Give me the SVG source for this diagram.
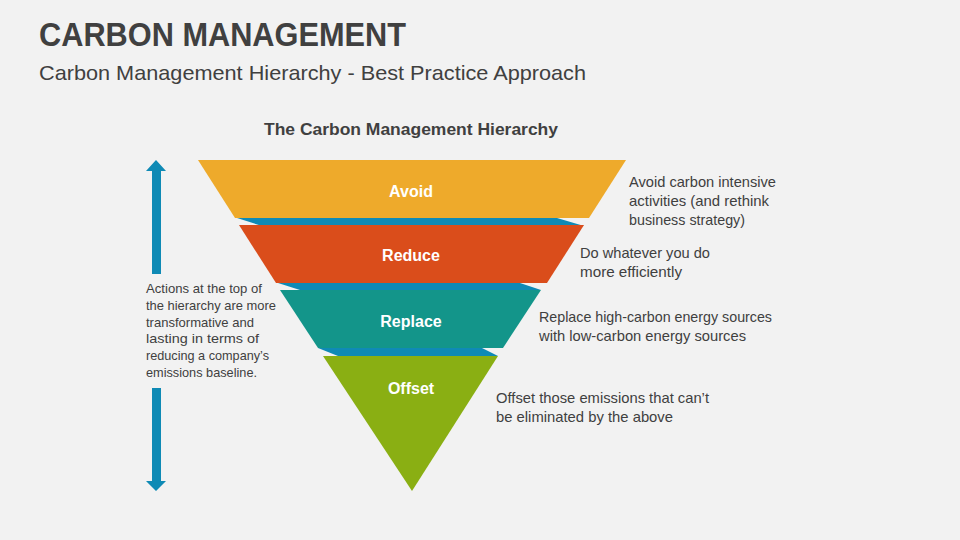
<svg xmlns="http://www.w3.org/2000/svg" width="960" height="540" viewBox="0 0 960 540">
<style>
.t{font-family:"Liberation Sans",Arial,sans-serif;fill:#404040}
.b{font-weight:bold}
.lbl{font-family:"Liberation Sans",Arial,sans-serif;font-weight:bold;font-size:16px;fill:#ffffff;text-anchor:middle}
.d{font-size:14.5px}
.s{font-size:13.5px}
.band{fill:#0F8AB5}
.arr{fill:#0F8AB5}
</style>
<rect width="960" height="540" fill="#F2F2F2"/>
<text class="t b" x="39" y="46" font-size="33" textLength="367" lengthAdjust="spacingAndGlyphs">CARBON MANAGEMENT</text>
<text class="t" x="39" y="80" font-size="21" textLength="547" lengthAdjust="spacingAndGlyphs">Carbon Management Hierarchy - Best Practice Approach</text>
<text class="t b" x="264" y="135" font-size="17" textLength="294" lengthAdjust="spacingAndGlyphs">The Carbon Management Hierarchy</text>

<g id="connectors">
<polygon class="band" points="237,218 557,218 584,226 262,226"/>
<polygon class="band" points="278,283 520,283 541,290 300,290"/>
<polygon class="band" points="318,348 482,348 498,356 338,356"/>
</g>

<g id="avoid">
<polygon points="198,160 626,160 589,218 235,218" fill="#EEAA2B"/>
<text class="lbl" x="411" y="197">Avoid</text>
</g>
<g id="reduce">
<polygon points="239,225 584,225 547,283 276,283" fill="#DA4D1B"/>
<text class="lbl" x="411" y="261">Reduce</text>
</g>
<g id="replace">
<polygon points="280,290 541,290 503,348 318,348" fill="#13958A"/>
<text class="lbl" x="411" y="327">Replace</text>
</g>
<g id="offset">
<polygon points="323,356 498,356 412,491" fill="#8AAF13"/>
<text class="lbl" x="411" y="394">Offset</text>
</g>

<g id="avoid-desc">
<text class="t d" x="629" y="187" textLength="147" lengthAdjust="spacingAndGlyphs">Avoid carbon intensive</text>
<text class="t d" x="629" y="206" textLength="140" lengthAdjust="spacingAndGlyphs">activities (and rethink</text>
<text class="t d" x="629" y="225" textLength="116" lengthAdjust="spacingAndGlyphs">business strategy)</text>
</g>
<g id="reduce-desc">
<text class="t d" x="580" y="258" textLength="130" lengthAdjust="spacingAndGlyphs">Do whatever you do</text>
<text class="t d" x="580" y="277" textLength="102" lengthAdjust="spacingAndGlyphs">more efficiently</text>
</g>
<g id="replace-desc">
<text class="t d" x="539" y="322" textLength="233" lengthAdjust="spacingAndGlyphs">Replace high-carbon energy sources</text>
<text class="t d" x="539" y="341" textLength="207" lengthAdjust="spacingAndGlyphs">with low-carbon energy sources</text>
</g>
<g id="offset-desc">
<text class="t d" x="496" y="403" textLength="213" lengthAdjust="spacingAndGlyphs">Offset those emissions that can’t</text>
<text class="t d" x="496" y="422" textLength="177" lengthAdjust="spacingAndGlyphs">be eliminated by the above</text>
</g>

<g id="scale-arrow">
<polygon class="arr" points="156,160 166,171 161,171 161,274 152,274 152,171 146,171"/>
<polygon class="arr" points="152,388 161,388 161,481 166,481 156,491 146,481 152,481"/>
<text class="t s" x="146" y="293" textLength="116" lengthAdjust="spacingAndGlyphs">Actions at the top of</text>
<text class="t s" x="146" y="310" textLength="130" lengthAdjust="spacingAndGlyphs">the hierarchy are more</text>
<text class="t s" x="146" y="327" textLength="108" lengthAdjust="spacingAndGlyphs">transformative and</text>
<text class="t s" x="146" y="343" textLength="113" lengthAdjust="spacingAndGlyphs">lasting in terms of</text>
<text class="t s" x="146" y="360" textLength="123" lengthAdjust="spacingAndGlyphs">reducing a company’s</text>
<text class="t s" x="146" y="377" textLength="111" lengthAdjust="spacingAndGlyphs">emissions baseline.</text>
</g>
</svg>
